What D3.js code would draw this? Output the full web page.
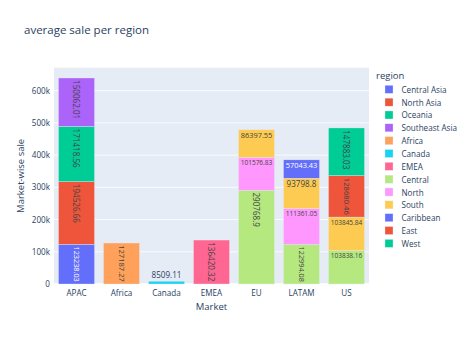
<!DOCTYPE html>
<html><head><meta charset="utf-8">
<script src="https://cdn.jsdelivr.net/npm/d3@7"></script>
<style>body{margin:0;background:#fff}svg{display:block}</style>
</head><body>
<svg id="c" width="474" height="338"></svg>
<script>
const markets = ["APAC","Africa","Canada","EMEA","EU","LATAM","US"];
const regions = ["Central Asia","North Asia","Oceania","Southeast Asia","Africa","Canada","EMEA","Central","North","South","Caribbean","East","West"];
const regionColors = ["#636efa","#EF553B","#00cc96","#ab63fa","#FFA15A","#19d3f3","#FF6692","#B6E880","#FF97FF","#FECB52","#636efa","#EF553B","#00cc96"];
const saleRegion = ["Central Asia","North Asia","Oceania","Southeast Asia","Africa","Canada","EMEA","Central","Central","Central","North","North","South","South","South","Caribbean","East","West"];
const saleMarket = ["APAC","APAC","APAC","APAC","Africa","Canada","EMEA","EU","LATAM","US","EU","LATAM","EU","LATAM","US","LATAM","US","US"];
const saleValue = [123238.03,194526.66,171418.56,150062.01,127187.27,8509.11,136420.32,290768.9,122994.08,103838.16,101576.83,111361.05,86397.55,93798.8,103845.84,57043.43,128680.46,147883.03];
const yTicks = [0,100000,200000,300000,400000,500000,600000];
const yTickLabels = ["0","100k","200k","300k","400k","500k","600k"];
const titleText = "average sale per region";
const xTitle = "Market", yTitle = "Market-wise sale", legendTitle = "region";

const FONT = "'Open Sans', verdana, arial, sans-serif";
const fs = 8.1;
const svg = d3.select("#c");
const L = 54, R = 369, T = 67.7, B = 284;

// stacking
const stackTop = {}; markets.forEach(m => stackTop[m] = 0);
const segs = [];
regions.forEach((r, ri) => {
  saleRegion.forEach((sr, i) => {
    if (sr !== r) return;
    const m = saleMarket[i];
    segs.push({region: r, ri, market: m, y0: stackTop[m], y1: stackTop[m] + saleValue[i], v: saleValue[i]});
    stackTop[m] += saleValue[i];
  });
});
const maxTotal = d3.max(markets, m => stackTop[m]);

const x = d3.scaleBand().domain(markets).range([L, R]).paddingInner(0.2).paddingOuter(0.1);
const y = d3.scaleLinear().domain([0, maxTotal * 1.05]).range([B, T]);

svg.append("rect").attr("x", L).attr("y", T).attr("width", R - L).attr("height", B - T).attr("fill", "#E5ECF6");

const yAxis = d3.axisLeft(y).tickValues(yTicks).tickFormat((d, i) => yTickLabels[i]).tickSize(0).tickPadding(4);
const gy = svg.append("g").attr("transform", `translate(${L},0)`).call(yAxis);
gy.select(".domain").remove();
gy.selectAll("text").attr("font-family", FONT).attr("font-size", fs).attr("fill", "#2a3f5f");
svg.append("g").selectAll("line").data(yTicks).join("line")
  .attr("x1", L).attr("x2", R).attr("y1", d => y(d)).attr("y2", d => y(d))
  .attr("stroke", "#fff").attr("stroke-width", d => d === 0 ? 1.4 : 0.8);

const xAxis = d3.axisBottom(x).tickSize(0).tickPadding(6);
const gx = svg.append("g").attr("transform", `translate(0,${B})`).call(xAxis);
gx.select(".domain").remove();
gx.selectAll("text").attr("font-family", FONT).attr("font-size", fs).attr("fill", "#2a3f5f");

// bars
const gb = svg.append("g");
gb.selectAll("rect").data(segs).join("rect")
  .attr("x", d => x(d.market)).attr("width", x.bandwidth())
  .attr("y", d => y(d.y1)).attr("height", d => y(d.y0) - y(d.y1))
  .attr("fill", d => regionColors[d.ri]).attr("stroke", "#E5ECF6").attr("stroke-width", 0.35);

// bar texts (plotly-like auto placement)
function isDark(hex){const c=d3.rgb(hex);return (c.r*299+c.g*587+c.b*114)/1000<128;}
const pad = 2;
const gt = svg.append("g");
segs.forEach(d => {
  const label = String(d.v);
  const bw = x.bandwidth(), bh = y(d.y0) - y(d.y1);
  const cx = x(d.market) + bw / 2, top = y(d.y1);
  const t = gt.append("text").text(label).attr("font-family", FONT).attr("font-size", fs);
  const bb = t.node().getBBox();
  const tw = bb.width, th = fs * 1.05;
  const lx = bw - 2 * pad, ly = bh - 2 * pad;
  const fitsH = tw <= lx && th <= ly;
  const fitsR = th <= lx && tw <= ly;
  const shrink = Math.max(Math.min(lx / tw, ly / th), Math.min(lx / th, ly / tw));
  const col = isDark(regionColors[d.ri]) ? "#fff" : "#444";
  if (!fitsH && !fitsR && shrink < 1/3) {
    t.attr("text-anchor", "middle").attr("x", cx).attr("y", top - 3).attr("fill", "#2a3f5f");
    return;
  }
  const rotate = !fitsH && (fitsR || ((tw < th) !== (lx < ly)));
  t.attr("fill", col).attr("text-anchor", "middle");
  if (!rotate) {
    const s = Math.min(1, lx / tw, ly / th);
    const f = fs * s;
    t.attr("font-size", f).attr("x", cx).attr("y", top + pad + f * 0.85);
  } else {
    const s = Math.min(1, lx / th, ly / tw);
    const f = fs * s;
    const len = tw * s;
    t.attr("font-size", f).attr("dominant-baseline", "central")
     .attr("transform", `translate(${cx},${top + pad + len / 2}) rotate(90)`);
  }
});

// titles
svg.append("text").text(titleText).attr("x", 24).attr("y", 34).attr("font-family", FONT).attr("font-size", 11.5).attr("fill", "#2a3f5f");
svg.append("text").text(xTitle).attr("x", (L + R) / 2).attr("y", 310).attr("text-anchor", "middle").attr("font-family", FONT).attr("font-size", 9.5).attr("fill", "#2a3f5f");
svg.append("text").text(yTitle).attr("transform", `translate(20,${(T + B) / 2}) rotate(-90)`).attr("text-anchor", "middle").attr("dominant-baseline", "central").attr("font-family", FONT).attr("font-size", 9.5).attr("fill", "#2a3f5f");

// legend
const lg = svg.append("g");
lg.append("text").text(legendTitle).attr("x", 376).attr("y", 79).attr("font-family", FONT).attr("font-size", 9.5).attr("fill", "#2a3f5f");
regions.forEach((r, i) => {
  const cy = 89.3 + i * 12.84;
  lg.append("rect").attr("x", 385).attr("y", cy - 4).attr("width", 8).attr("height", 8).attr("fill", regionColors[i]).attr("stroke", "#E5ECF6").attr("stroke-width", 0.35);
  lg.append("text").text(r).attr("x", 401.5).attr("y", cy).attr("dominant-baseline", "central").attr("font-family", FONT).attr("font-size", fs).attr("fill", "#2a3f5f");
});
</script>
</body></html>
